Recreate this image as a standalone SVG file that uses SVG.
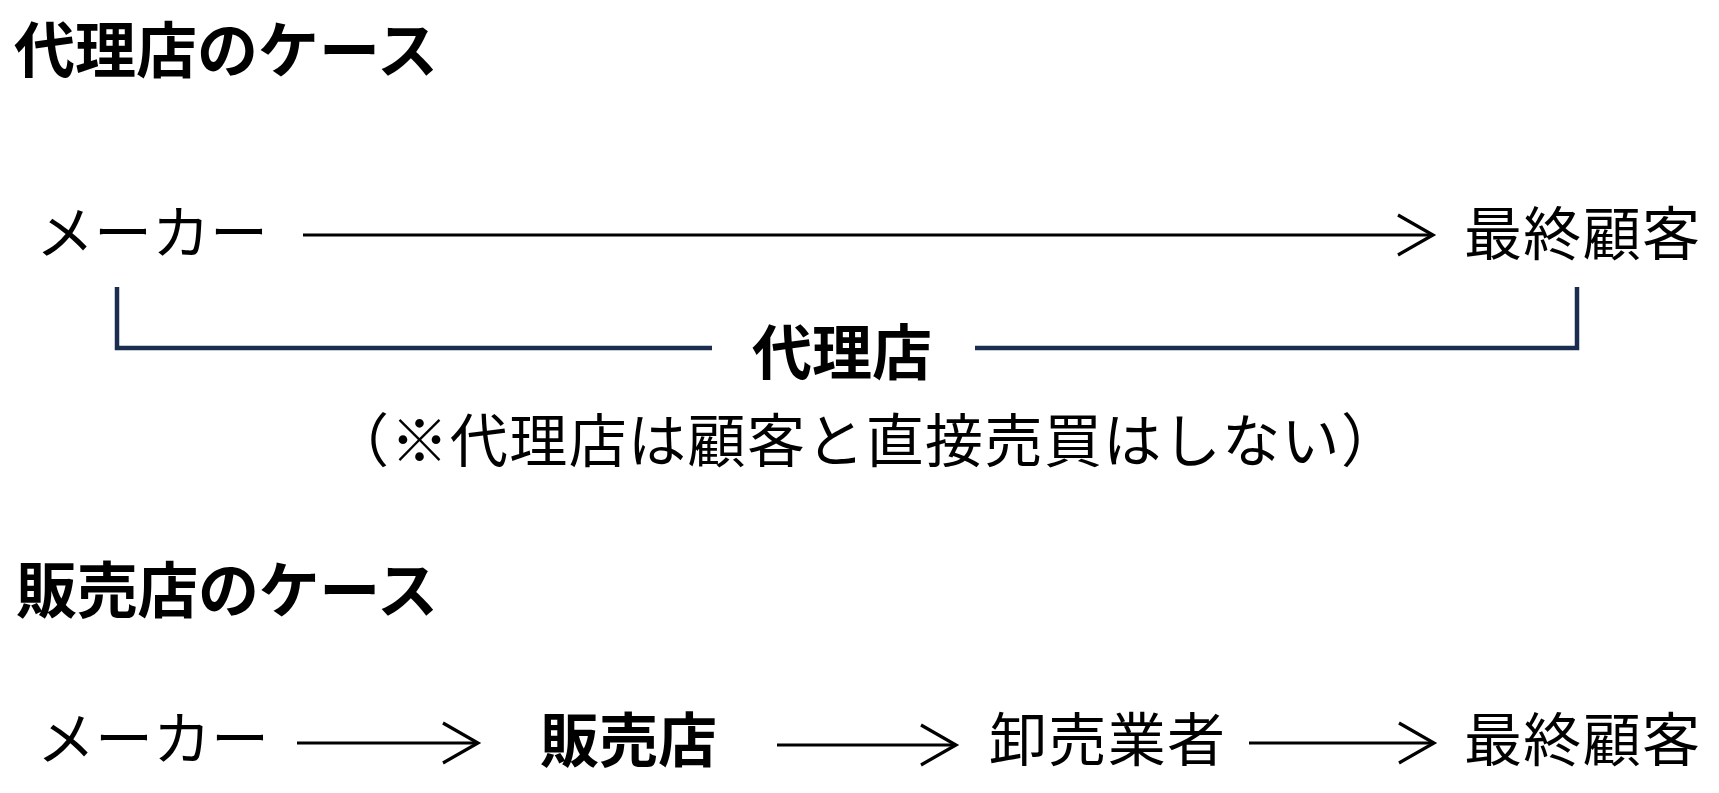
<svg xmlns="http://www.w3.org/2000/svg" width="1719" height="793" viewBox="0 0 1719 793">
<style>
  text { font-family: "Noto Sans CJK JP", "Noto Sans CJK SC", sans-serif; fill: #000; }
  .t { font-size: 58px; font-weight: 400; }
  .b { font-size: 60px; font-weight: 700; }
  .h { font-size: 61px; font-weight: 700; }
  .arrow { stroke: #000; stroke-width: 3; fill: none; marker-end: url(#chev); }
  .bracket { stroke: #1b2d4f; stroke-width: 4.5; fill: none; stroke-linecap: butt; stroke-linejoin: miter; }
</style>
<defs>
  <marker id="chev" markerUnits="userSpaceOnUse" markerWidth="48" markerHeight="52" viewBox="-42 -26 48 52" refX="0" refY="0" orient="auto" overflow="visible">
    <path d="M-35,-20 L0,0 L-35,20" fill="none" stroke="#000" stroke-width="3.2" stroke-linejoin="miter"/>
  </marker>
</defs>
<rect width="1719" height="793" fill="#fff"/>

<g id="title-agency"><text class="h" x="14" y="73" textLength="424" lengthAdjust="spacing">代理店のケース</text></g>
<g id="title-dealer"><text class="h" x="16" y="613" textLength="422" lengthAdjust="spacing">販売店のケース</text></g>

<g id="n-maker1"><text class="t" x="36" y="254">メーカー</text></g>
<g id="n-customer1"><text class="t" x="1464" y="255" textLength="236" lengthAdjust="spacing">最終顧客</text></g>
<g id="n-agency"><text class="b" x="752" y="375">代理店</text></g>
<g id="n-note"><text class="t" x="331" y="462" textLength="1068" lengthAdjust="spacing">（※代理店は顧客と直接売買はしない）</text></g>

<g id="n-maker2"><text class="t" x="37" y="760">メーカー</text></g>
<g id="n-dealer"><text class="b" x="540" y="762" style="font-size:59px">販売店</text></g>
<g id="n-wholesaler"><text class="t" x="989" y="761" textLength="236" lengthAdjust="spacing">卸売業者</text></g>
<g id="n-customer2"><text class="t" x="1464" y="761" textLength="236" lengthAdjust="spacing">最終顧客</text></g>

<g id="connectors">
  <line class="arrow" x1="303" y1="235" x2="1433" y2="235"/>
  <path class="bracket" d="M117,287 V348 H712"/>
  <path class="bracket" d="M975,348 H1577 V287"/>
  <line class="arrow" x1="297" y1="743" x2="478" y2="743"/>
  <line class="arrow" x1="777" y1="745" x2="956" y2="745"/>
  <line class="arrow" x1="1249" y1="743" x2="1434" y2="743"/>
</g>
</svg>
